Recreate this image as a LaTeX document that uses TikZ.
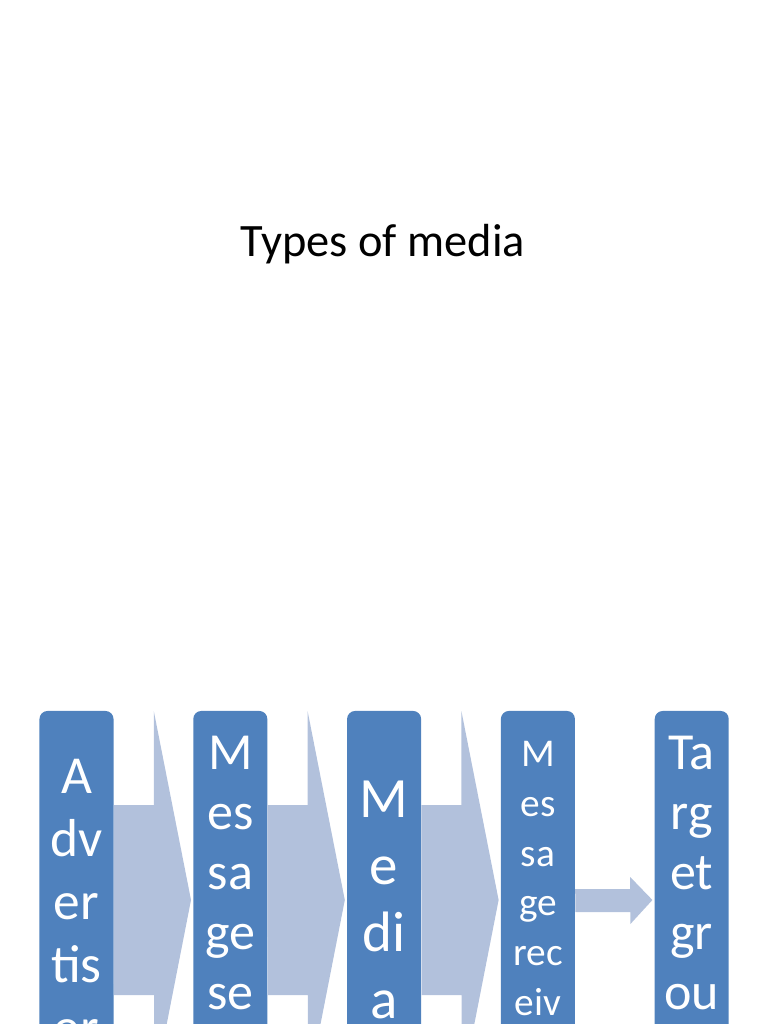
\documentclass[tikz,border=0pt]{standalone}
\usepackage{fontspec}
\setmainfont{Carlito}
\usetikzlibrary{positioning}
\usetikzlibrary{calc}

\definecolor{boxblue}{HTML}{4F81BD}
\definecolor{flowblue}{HTML}{B2C1DC}

\begin{document}
\begin{tikzpicture}[x=0.025cm, y=-0.025cm,
    stage/.style={fill=boxblue, rounded corners=0.2cm, minimum width=1.85cm, minimum height=9.45cm, inner sep=0pt},
    flow/.style={fill=flowblue},
    word/.style={text=white, anchor=base, inner sep=0pt},
    node distance=1.98cm]
    \path[use as bounding box, clip] (0,0) rectangle (768,1024);
    \node (title) at (383,257) [anchor=base, font=\fontsize{33}{40}\selectfont] {Types of media};

    \node [stage] (adv) at (76.5,900) {};
    \node [stage, right=of adv] (snd) {};
    \node [stage, right=of snd] (med) {};
    \node [stage, right=of med] (rcv) {};
    \node [stage, right=of rcv] (tgt) {};

    % big arrows
    \fill[flow] (adv.east) ++(0,-95) -- ++(40,0) -- ++(0,-94) -- ($(snd.west)+(-2,0)$) -- ++(-37,189) -- ++(0,-94) -- ++(-40,0) -- cycle;
    \fill[flow] (snd.east) ++(0,-95) -- ++(40,0) -- ++(0,-94) -- ($(med.west)+(-2,0)$) -- ++(-37,189) -- ++(0,-94) -- ++(-40,0) -- cycle;
    \fill[flow] (med.east) ++(0,-95) -- ++(40,0) -- ++(0,-94) -- ($(rcv.west)+(-2,0)$) -- ++(-37,189) -- ++(0,-94) -- ++(-40,0) -- cycle;
    % small arrow
    \fill[flow] (rcv.east) ++(0,-11) -- ++(55,0) -- ++(0,-12) -- ($(tgt.west)+(-2,0)$) -- ++(-22,24) -- ++(0,-12) -- ++(-55,0) -- cycle;

    \foreach \w [count=\i] in {A,dv,er,tis,er}
      \node [word, font=\fontsize{38}{45}\selectfont] (adv-\i) at ($(adv.north)+(0,20+63*\i)$) {\w};
    \foreach \w [count=\i] in {M,es,sa,ge,se}
      \node [word, font=\fontsize{37}{44}\selectfont] (snd-\i) at ($(snd.north)+(0,-1+60*\i)$) {\w};
    \foreach \w [count=\i] in {M,e,di,a}
      \node [word, font=\fontsize{40.5}{48}\selectfont] (med-\i) at ($(med.north)+(0,40+67*\i)$) {\w};
    \foreach \w [count=\i] in {M,es,sa,ge,rec,eiv}
      \node [word, font=\fontsize{28}{34}\selectfont] (rcv-\i) at ($(rcv.north)+(0,6.3+49.7*\i)$) {\w};
    \foreach \w [count=\i] in {Ta,rg,et,gr,ou}
      \node [word, font=\fontsize{37}{44}\selectfont] (tgt-\i) at ($(tgt.north)+(0,-1+60*\i)$) {\w};
\end{tikzpicture}
\end{document}
